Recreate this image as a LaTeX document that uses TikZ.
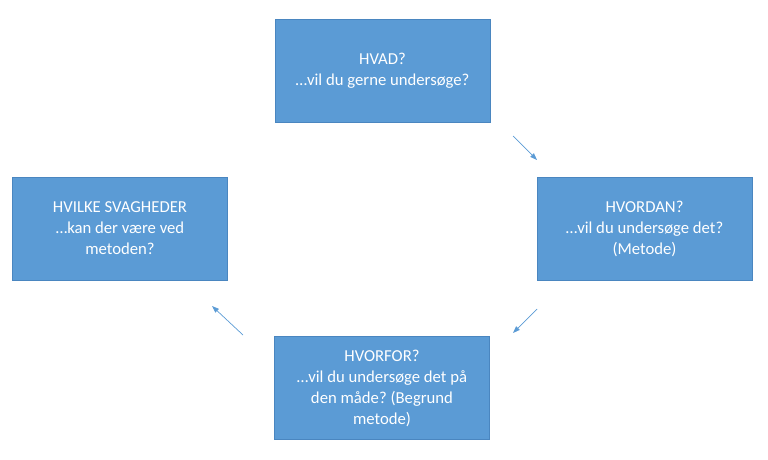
\documentclass[tikz,border=0pt]{standalone}
\usepackage{fontspec}
\setmainfont{Carlito}
\usepackage{tikz}
\usetikzlibrary{positioning, arrows.meta}
\usepackage{xcolor}
\definecolor{boxblue}{HTML}{5B9BD5}
\definecolor{boxedge}{HTML}{4A86C0}
\frenchspacing

\begin{document}
\begin{tikzpicture}[x=1pt, y=-1pt,
    box/.style={rectangle, fill=boxblue, draw=boxedge, line width=0.6pt,
        minimum width=215pt, minimum height=103pt, inner sep=0pt,
        align=center, text=white, font=\fontsize{16.7}{21}\selectfont},
    pil/.style={-{Triangle[length=7pt, width=5pt]}, boxblue, line width=0.7pt}]
    \useasboundingbox (0,0) rectangle (768,460);

    % The four questions, clockwise from the top
    \node[box] (hvad) at (382.5,70.5) {HVAD?\\…vil du gerne undersøge?};
    \node[box] (hvordan) at (644.5,228.5) {HVORDAN?\\…vil du undersøge det?\\(Metode)};
    \node[box] (hvorfor) at (382,388) {HVORFOR?\\…vil du undersøge det på\\den måde? (Begrund\\metode)};
    \node[box] (svagheder) at (120,228.5) {HVILKE SVAGHEDER\\…kan der være ved\\metoden?};

    % Free ends of the small arrows between the boxes
    \coordinate (p1a) at (513,136);
    \coordinate (p1b) at (537,160);
    \coordinate (p2a) at (537,309);
    \coordinate (p2b) at (513,333);
    \coordinate (p3a) at (243,335);
    \coordinate (p3b) at (212,306);

    % Arrows
    \draw[pil] (p1a) -- (p1b);
    \draw[pil] (p2a) -- (p2b);
    \draw[pil] (p3a) -- (p3b);
\end{tikzpicture}
\end{document}
